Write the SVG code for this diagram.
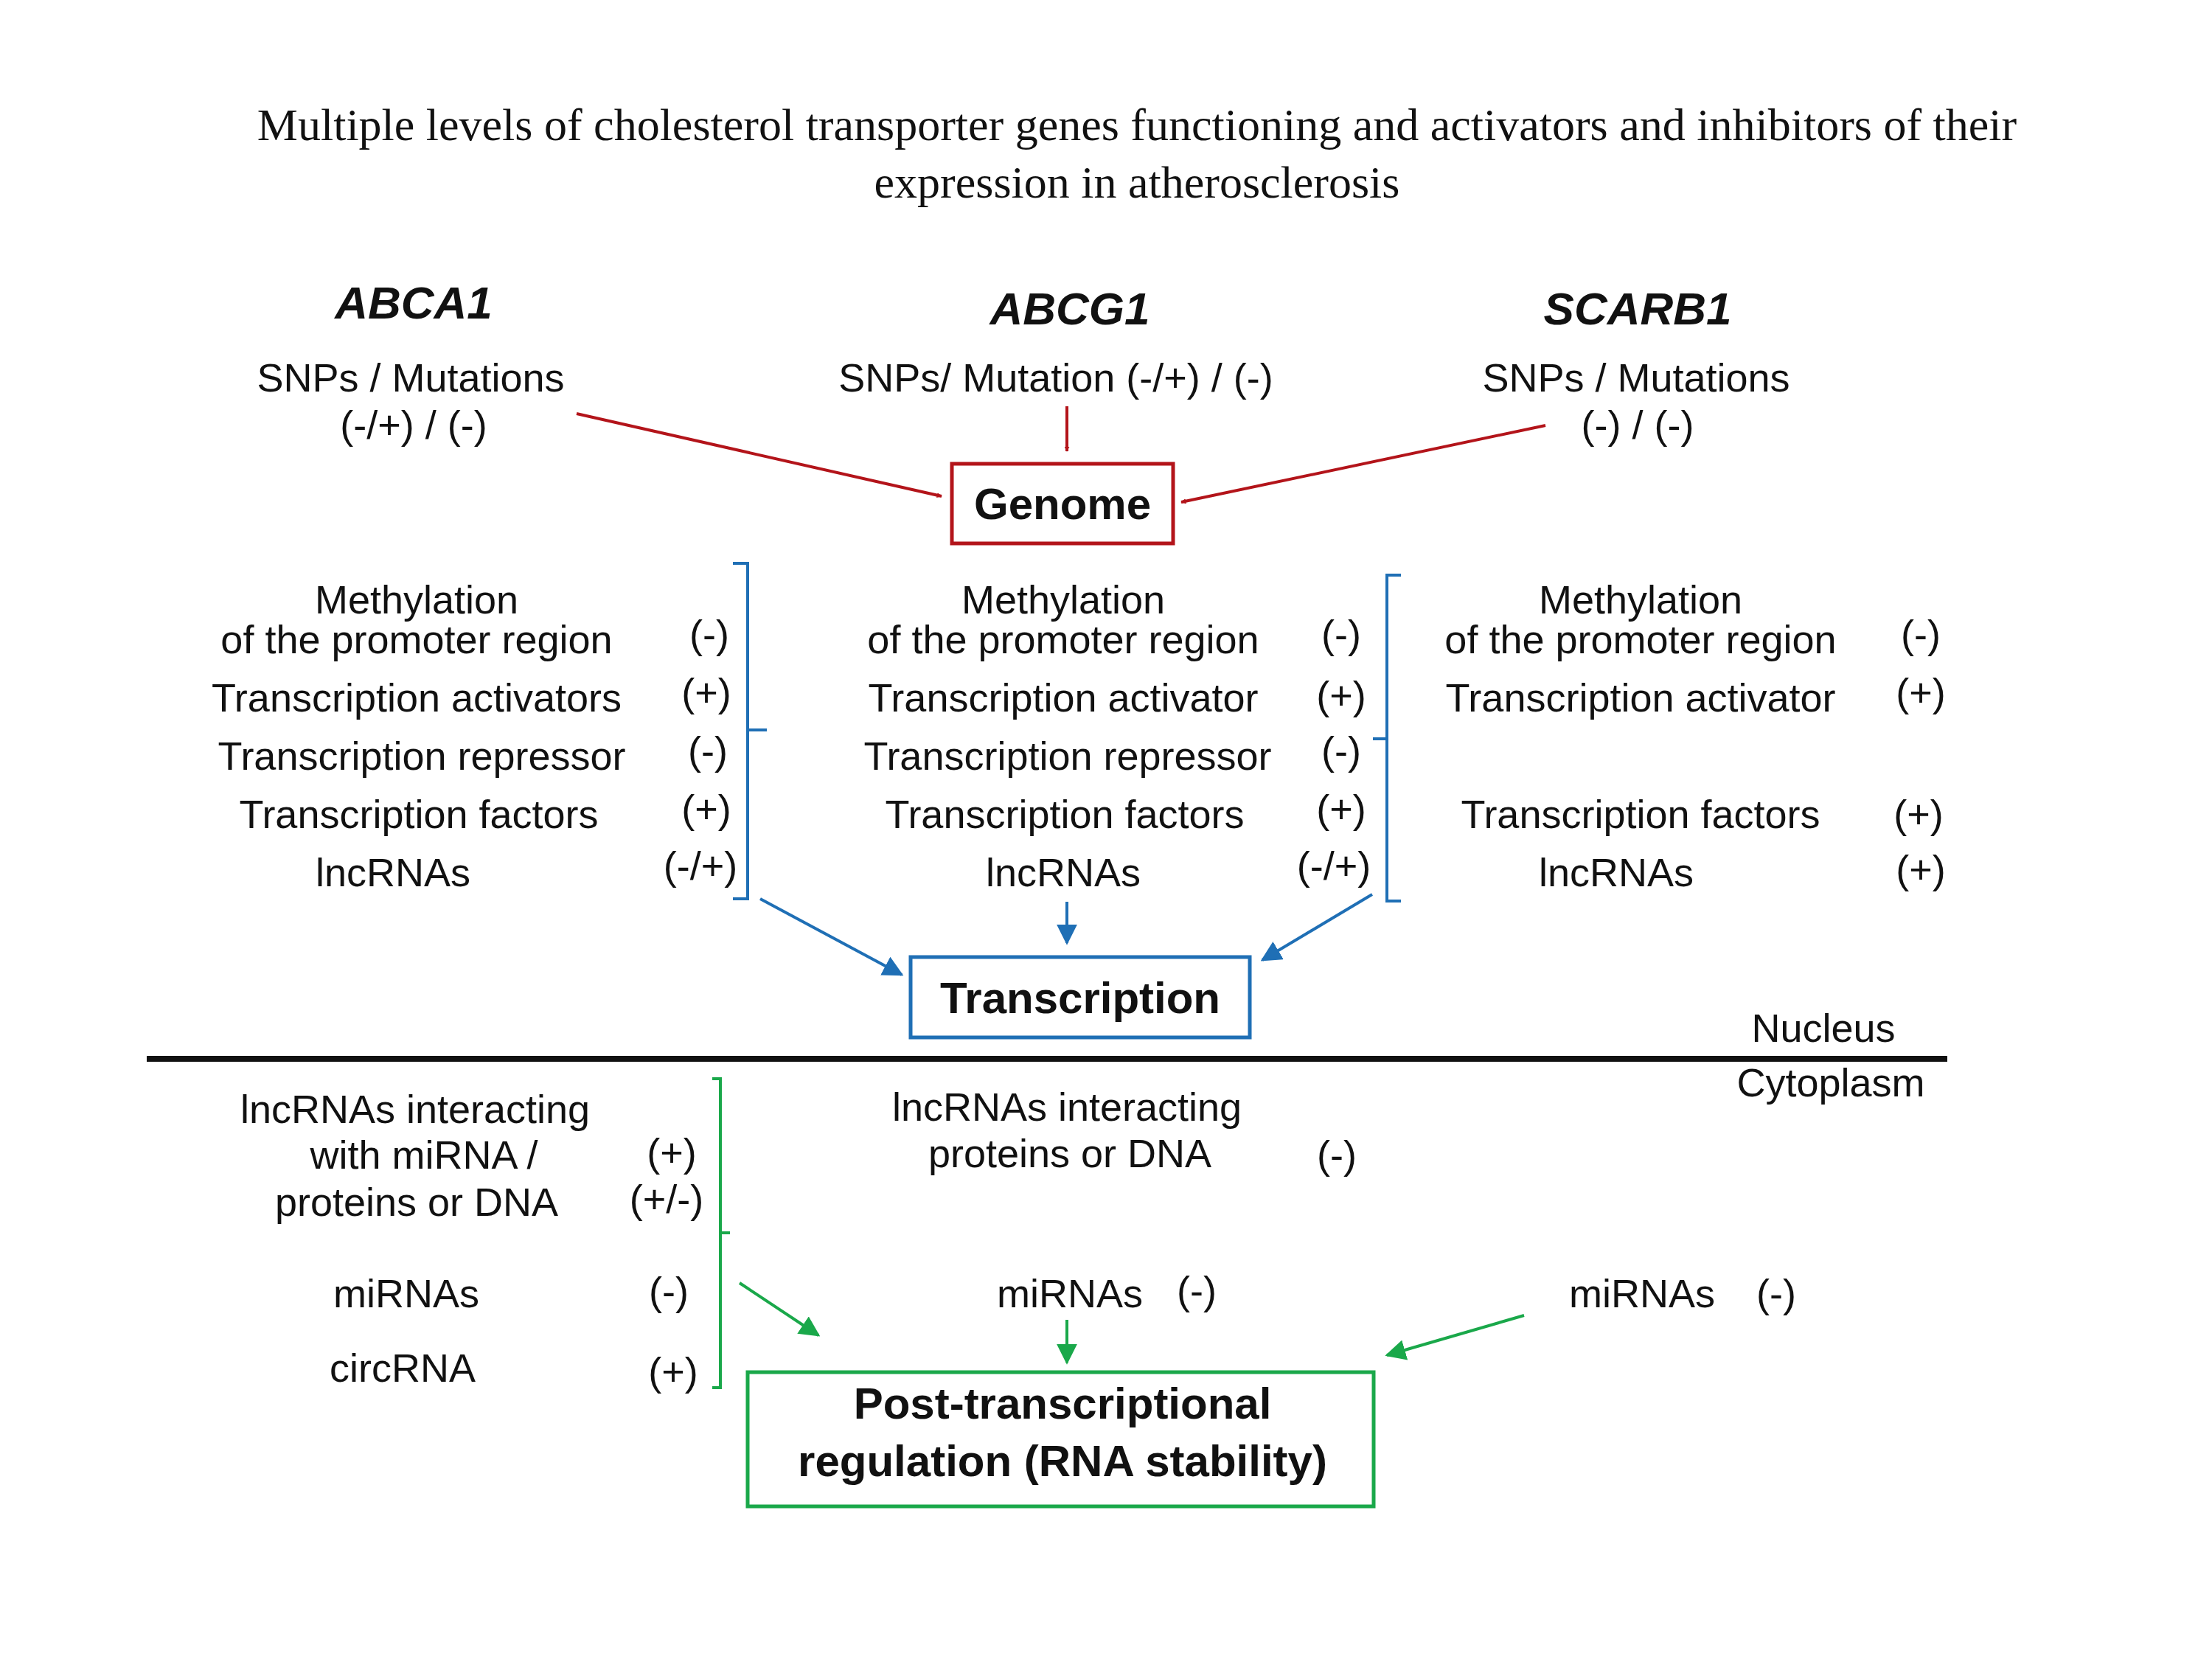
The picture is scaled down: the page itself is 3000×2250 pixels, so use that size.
<svg xmlns="http://www.w3.org/2000/svg" width="3000" height="2250" viewBox="0 0 3000 2250">
<style>
text{font-family:"Liberation Sans",Arial,sans-serif;fill:#111;text-anchor:middle}
.t{font-family:"Liberation Serif","Times New Roman",serif;font-size:62px}
.g{font-size:62px;font-weight:bold;font-style:italic}
.n{font-size:54px}
.b{font-size:60px;font-weight:bold}
.red{stroke:#b3141a;fill:none;stroke-width:4}
.blue{stroke:#1f6fb5;fill:none;stroke-width:4}
.green{stroke:#1aa84a;fill:none;stroke-width:4}
</style>
<defs>
<marker id="ar" viewBox="0 0 10 10" refX="9" refY="5" markerWidth="7" markerHeight="7" orient="auto" markerUnits="userSpaceOnUse"><path d="M0,0L10,5L0,10z" fill="#b3141a"/></marker>
<marker id="ab" viewBox="0 0 10 10" refX="9" refY="5" markerWidth="7" markerHeight="7" orient="auto"><path d="M0,0L10,5L0,10z" fill="#1f6fb5"/></marker>
<marker id="ag" viewBox="0 0 10 10" refX="9" refY="5" markerWidth="7" markerHeight="7" orient="auto"><path d="M0,0L10,5L0,10z" fill="#1aa84a"/></marker>
</defs>
<rect width="3000" height="2250" fill="#fff"/>
<g id="title">
<text class="t" x="1542" y="190">Multiple levels of cholesterol transporter genes functioning and activators and inhibitors of their</text>
<text class="t" x="1542" y="268">expression in atherosclerosis</text>
</g>
<g id="abca1">
<text class="g" x="561" y="432">ABCA1</text>
<text class="n" x="557" y="531">SNPs / Mutations</text>
<text class="n" x="561" y="595">(-/+) / (-)</text>
</g>
<g id="abcg1">
<text class="g" x="1451" y="440">ABCG1</text>
<text class="n" x="1432" y="531">SNPs/ Mutation (-/+) / (-)</text>
</g>
<g id="scarb1">
<text class="g" x="2221" y="440">SCARB1</text>
<text class="n" x="2219" y="531">SNPs / Mutations</text>
<text class="n" x="2221" y="595">(-) / (-)</text>
</g>
<g id="genome">
<rect x="1291" y="629" width="300" height="108" fill="#fff" stroke="#b3141a" stroke-width="5"/>
<text class="b" x="1441" y="704">Genome</text>
</g>
<g id="left-transcription-factors">
<text class="n" x="565" y="832">Methylation</text>
<text class="n" x="565" y="886">of the promoter region</text>
<text class="n" x="565" y="965">Transcription activators</text>
<text class="n" x="572" y="1044">Transcription repressor</text>
<text class="n" x="568" y="1123">Transcription factors</text>
<text class="n" x="533" y="1202">lncRNAs</text>
<text class="n" x="962" y="879">(-)</text>
<text class="n" x="958" y="958">(+)</text>
<text class="n" x="960" y="1037">(-)</text>
<text class="n" x="958" y="1116">(+)</text>
<text class="n" x="950" y="1193">(-/+)</text>
<path class="blue" d="M994,764H1014V1219H994M1014,990H1040"/>
</g>
<g id="middle-transcription-factors">
<text class="n" x="1442" y="832">Methylation</text>
<text class="n" x="1442" y="886">of the promoter region</text>
<text class="n" x="1442" y="965">Transcription activator</text>
<text class="n" x="1448" y="1044">Transcription repressor</text>
<text class="n" x="1444" y="1123">Transcription factors</text>
<text class="n" x="1442" y="1202">lncRNAs</text>
<text class="n" x="1819" y="879">(-)</text>
<text class="n" x="1819" y="962">(+)</text>
<text class="n" x="1819" y="1037">(-)</text>
<text class="n" x="1819" y="1116">(+)</text>
<text class="n" x="1809" y="1193">(-/+)</text>
<path class="blue" d="M1900,780H1881V1222H1900M1881,1002H1862"/>
</g>
<g id="right-transcription-factors">
<text class="n" x="2225" y="832">Methylation</text>
<text class="n" x="2225" y="886">of the promoter region</text>
<text class="n" x="2225" y="965">Transcription activator</text>
<text class="n" x="2225" y="1123">Transcription factors</text>
<text class="n" x="2192" y="1202">lncRNAs</text>
<text class="n" x="2605" y="879">(-)</text>
<text class="n" x="2605" y="958">(+)</text>
<text class="n" x="2602" y="1123">(+)</text>
<text class="n" x="2605" y="1198">(+)</text>
</g>
<g id="transcription">
<rect x="1235" y="1298" width="460" height="109" fill="#fff" stroke="#1f6fb5" stroke-width="5"/>
<text class="b" x="1465" y="1374">Transcription</text>
</g>
<g id="compartments">
<line x1="199" y1="1436" x2="2641" y2="1436" stroke="#111" stroke-width="8"/>
<text class="n" x="2473" y="1413">Nucleus</text>
<text class="n" x="2483" y="1487">Cytoplasm</text>
</g>
<g id="left-post">
<text class="n" x="563" y="1523">lncRNAs interacting</text>
<text class="n" x="575" y="1585">with miRNA /</text>
<text class="n" x="565" y="1649">proteins or DNA</text>
<text class="n" x="911" y="1582">(+)</text>
<text class="n" x="904" y="1645">(+/-)</text>
<text class="n" x="551" y="1773">miRNAs</text>
<text class="n" x="907" y="1770">(-)</text>
<text class="n" x="546" y="1874">circRNA</text>
<text class="n" x="913" y="1879">(+)</text>
<path class="green" d="M966,1463H977V1882H966M977,1672H990"/>
</g>
<g id="middle-post">
<text class="n" x="1447" y="1520">lncRNAs interacting</text>
<text class="n" x="1451" y="1583">proteins or DNA</text>
<text class="n" x="1813" y="1585">(-)</text>
<text class="n" x="1451" y="1773">miRNAs</text>
<text class="n" x="1623" y="1769">(-)</text>
</g>
<g id="right-post">
<text class="n" x="2227" y="1773">miRNAs</text>
<text class="n" x="2409" y="1773">(-)</text>
</g>
<g id="post-transcriptional">
<rect x="1014" y="1861" width="849" height="182" fill="#fff" stroke="#1aa84a" stroke-width="5"/>
<text class="b" x="1441" y="1924">Post-transcriptional</text>
<text class="b" x="1441" y="2002">regulation (RNA stability)</text>
</g>
<g id="connectors">
<line class="red" x1="782" y1="561" x2="1277" y2="673" marker-end="url(#ar)" stroke-width="5"/>
<line class="red" x1="1447" y1="551" x2="1447" y2="612" marker-end="url(#ar)" stroke-width="5"/>
<line class="red" x1="2096" y1="577" x2="1602" y2="681" marker-end="url(#ar)" stroke-width="5"/>
<line class="blue" x1="1031" y1="1219" x2="1223" y2="1322" marker-end="url(#ab)"/>
<line class="blue" x1="1447" y1="1223" x2="1447" y2="1279" marker-end="url(#ab)"/>
<line class="blue" x1="1861" y1="1213" x2="1712" y2="1302" marker-end="url(#ab)"/>
<line class="green" x1="1003" y1="1740" x2="1110" y2="1811" marker-end="url(#ag)"/>
<line class="green" x1="1447" y1="1790" x2="1447" y2="1848" marker-end="url(#ag)"/>
<line class="green" x1="2067" y1="1784" x2="1881" y2="1838" marker-end="url(#ag)"/>
</g>
</svg>
